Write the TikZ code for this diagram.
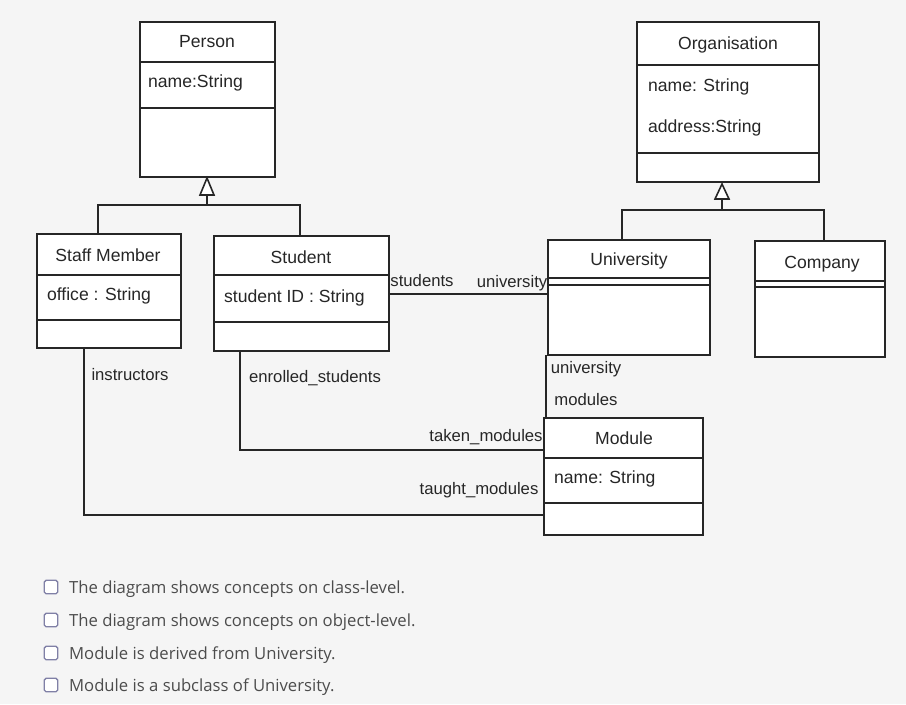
\documentclass[tikz,border=0pt]{standalone}
\usepackage{fontspec}
\setmainfont{Liberation Sans}
\newfontfamily\qfont{Open Sans}
\begin{document}
\begin{tikzpicture}[x=0.02cm,y=-0.02cm,
  box/.style={draw=black!85,line width=1pt},
  ln/.style={draw=black!85,line width=0.9pt},
  lbl/.style={font=\fontsize{9.5}{11}\selectfont,text=black!85,inner sep=1pt},
  ttl/.style={font=\fontsize{10}{12}\selectfont,text=black!85,inner sep=1pt},
  q/.style={font=\qfont\fontsize{9.5}{11}\selectfont,text=black!70,anchor=west,inner sep=1pt},
  cb/.style={draw=blue!30!black!50,line width=0.8pt,minimum size=0.27cm,inner sep=0pt,rounded corners=1pt,fill=white},
  tri/.style={draw=black!85,line width=0.9pt,fill=white}]
\fill[gray!8] (0,0) rectangle (906,704);
\useasboundingbox (0,0) rectangle (906,704);
% Person
\draw[box,fill=white] (140,22) rectangle (275,177);
\draw[box] (140,62)--(275,62) (140,108)--(275,108);
\node[ttl] (personT) at (207,42) {Person};
\node[ttl,anchor=west] (personA) at (146,83) {name:String};
% Organisation
\draw[box,fill=white] (637,22) rectangle (819,182);
\draw[box] (637,65)--(819,65) (637,153)--(819,153);
\node[ttl] (orgT) at (728,45) {Organisation};
\node[ttl,anchor=west] (orgA) at (646,87) {name: String};
\node[ttl,anchor=west] (orgB) at (646,128) {address:String};
% Staff
\draw[box,fill=white] (37,234) rectangle (181,348);
\draw[box] (37,275)--(181,275) (37,320)--(181,320);
\node[ttl] (staffT) at (108,255) {Staff Member};
\node[ttl,anchor=west] (staffA) at (45,296) {office : String};
% Student
\draw[box,fill=white] (214,236) rectangle (389,351);
\draw[box] (214,275)--(389,275) (214,322)--(389,322);
\node[ttl] (studT) at (301,257) {Student};
\node[ttl,anchor=west] (studA) at (222,298) {student ID : String};
% University
\draw[box,fill=white] (548,240) rectangle (710,355);
\draw[box] (548,278)--(710,278) (548,285)--(710,285);
\node[ttl] (uniT) at (629,261) {University};
% Company
\draw[box,fill=white] (755,241) rectangle (885,357);
\draw[box] (755,281)--(885,281) (755,287)--(885,287);
\node[ttl] (compT) at (822,264) {Company};
% Module
\draw[box,fill=white] (544,418) rectangle (703,535);
\draw[box] (544,458)--(703,458) (544,503)--(703,503);
\node[ttl] (modT) at (624,438) {Module};
\node[ttl,anchor=west] (modA) at (552,479) {name: String};
% generalization Person
\draw[ln] (207,195)--(207,205) (98,234)--(98,205)--(300,205)--(300,236);
\draw[tri] (207,178)--(200,195)--(214,195)--cycle;
% generalization Organisation
\draw[ln] (722,199)--(722,210) (622,240)--(622,210)--(824,210)--(824,241);
\draw[tri] (722,184)--(715,199)--(729,199)--cycle;
% associations
\draw[ln] (389,294)--(548,294);
\node[lbl] (l1) at (422,281) {students};
\node[lbl] (l2) at (512,283) {university};
\draw[ln] (546,355)--(546,418);
\node[lbl] (l3) at (586,369) {university};
\node[lbl] (l4) at (586,400) {modules};
\draw[ln] (240,351)--(240,450)--(544,450);
\node[lbl] (l5) at (315,378) {enrolled\_students};
\node[lbl] (l6) at (486,437) {taken\_modules};
\draw[ln] (84,348)--(84,515)--(544,515);
\node[lbl] (l7) at (130,375) {instructors};
\node[lbl] (l8) at (479,490) {taught\_modules};
% questions
\node[cb] (c1) at (51,587) {};
\node[cb] (c2) at (51,620) {};
\node[cb] (c3) at (51,653) {};
\node[cb] (c4) at (51,685) {};
\node[q] (q1) at (67,589) {The diagram shows concepts on class-level.};
\node[q] (q2) at (67,622) {The diagram shows concepts on object-level.};
\node[q] (q3) at (67,655) {Module is derived from University.};
\node[q] (q4) at (67,687) {Module is a subclass of University.};
\end{tikzpicture}
\end{document}
